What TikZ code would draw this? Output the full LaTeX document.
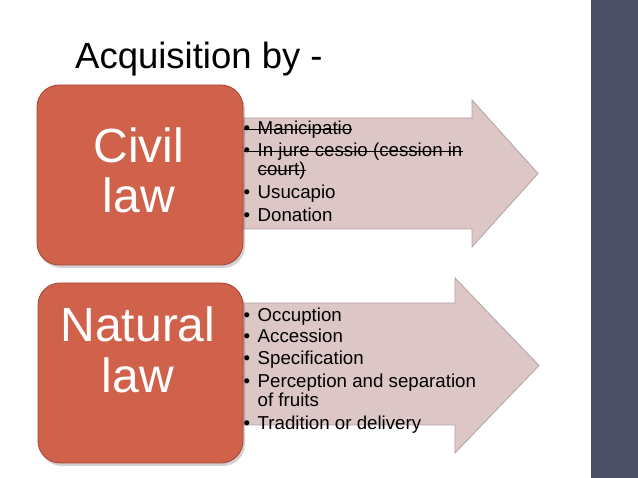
\documentclass[tikz,border=0pt]{standalone}
\usepackage{fontspec}
\setmainfont{Liberation Sans}
\definecolor{boxfill}{HTML}{D0624B}
\definecolor{boxline}{HTML}{A44633}
\definecolor{arrfill}{HTML}{DCC6C6}
\definecolor{arrline}{HTML}{B3A3A3}
\definecolor{sidebar}{HTML}{4B5064}
\tikzset{
  lawbox/.style={draw=boxline, line width=0.8pt, fill=boxfill, rounded corners=22pt, inner sep=0pt},
  lawtext/.style={text=white, font=\fontsize{48}{50}\selectfont, anchor=base, inner sep=0pt},
  arrowshape/.style={draw=arrline, line width=0.8pt, fill=arrfill},
  item/.style={anchor=base west, inner sep=0pt, font=\fontsize{18.7}{20}\selectfont},
  shadowbox/.style={fill=black, opacity=0.18, rounded corners=22pt},
  strike/.style={line width=0.9pt, black}
}
\newcommand{\itm}[1]{\makebox[14pt][l]{\textbullet}#1}
\newcommand{\cont}[1]{\hspace*{14pt}#1}
\begin{document}
\begin{tikzpicture}[x=1pt,y=-1pt]
\useasboundingbox (0,0) rectangle (638,478);
\fill[white] (0,0) rectangle (638,478);
\fill[sidebar] (591,0) rectangle (638,478);

\node[anchor=base west, inner sep=0pt, font=\fontsize{36.5}{40}\selectfont] (title) at (75,69) {Acquisition by -};

% arrows
\draw[arrowshape] (236,118) -- (472,118) -- (472,100) -- (538,173.5) -- (472,247) -- (472,229) -- (236,229) -- cycle;
\draw[arrowshape] (236,303) -- (455,303) -- (455,278) -- (539,365.5) -- (455,453) -- (455,425) -- (236,425) -- cycle;

% boxes
\fill[shadowbox] (39,88) rectangle (245,268);
\fill[shadowbox] (40,286) rectangle (245,466);
\path[lawbox] (37,85) rectangle (243,265);
\path[lawbox] (38,283) rectangle (243,463);
\node[lawtext] (c1) at (139,163) {Civil};
\node[lawtext] (c2) at (139,213) {law};
\node[lawtext] (n1) at (138,342) {Natural};
\node[lawtext] (n2) at (138,393) {law};

% civil items
\node[item] (a1) at (243.5,135) {\itm{Manicipatio}};
\node[item] (a2) at (243.5,157) {\itm{In jure cessio (cession in}};
\node[item] (a3) at (243.5,176) {\cont{court)}};
\node[item] (a4) at (243.5,199) {\itm{Usucapio}};
\node[item] (a5) at (243.5,222) {\itm{Donation}};
\draw[strike] ([yshift=6pt]a1.base west) -- ([yshift=6pt]a1.base east);
\draw[strike] ([yshift=6pt]a2.base west) -- ([yshift=6pt]a2.base east);
\draw[strike] ([yshift=6pt,xshift=14pt]a3.base west) -- ([yshift=6pt]a3.base east);

% natural items
\node[item] (b1) at (243.5,322) {\itm{Occuption}};
\node[item] (b2) at (243.5,343) {\itm{Accession}};
\node[item] (b3) at (243.5,365) {\itm{Specification}};
\node[item] (b4) at (243.5,388) {\itm{Perception and separation}};
\node[item] (b5) at (243.5,407) {\cont{of fruits}};
\node[item] (b6) at (243.5,430) {\itm{Tradition or delivery}};
\end{tikzpicture}
\end{document}
